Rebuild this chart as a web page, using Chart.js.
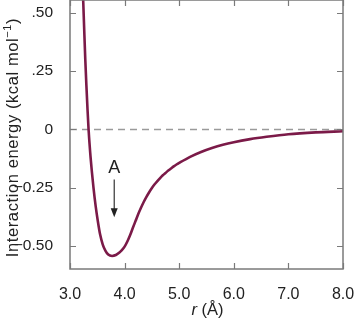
<!DOCTYPE html>
<html>
<head>
<meta charset="utf-8">
<script src="https://cdn.jsdelivr.net/npm/chart.js@4.4.0/dist/chart.umd.min.js"></script>
<style>
  html, body { margin: 0; padding: 0; background: #fff; }
  #wrap { width: 354px; height: 319px; }
</style>
</head>
<body>
<div id="wrap"><canvas id="energyChart"></canvas></div>
<script>
// separation r (Å) and interaction energy (kcal/mol)
const distances = [3.235, 3.26, 3.28, 3.30, 3.32, 3.34, 3.37, 3.40, 3.43, 3.47, 3.51, 3.55, 3.60, 3.65, 3.70, 3.77,
                   3.84, 3.90, 3.95, 4.00, 4.05, 4.10, 4.15, 4.20, 4.25, 4.30, 4.35, 4.40, 4.45, 4.50, 4.55, 4.60,
                   4.65, 4.70, 4.75, 4.80, 4.85, 4.90, 4.95, 5.00, 5.20, 5.40, 5.60, 5.80, 6.00, 6.30, 6.60,
                   7.00, 7.50, 8.00];
const energies = [0.60, 0.43, 0.30, 0.19, 0.09, 0.0, -0.10, -0.18, -0.25, -0.33, -0.395, -0.45, -0.495, -0.522, -0.538, -0.544,
                  -0.540, -0.530, -0.519, -0.504, -0.482, -0.455, -0.424, -0.394, -0.364, -0.337, -0.312, -0.290, -0.270, -0.252, -0.236, -0.222,
                  -0.209, -0.197, -0.187, -0.177, -0.168, -0.159, -0.151, -0.144, -0.118, -0.097, -0.080, -0.066, -0.055, -0.042, -0.032,
                  -0.021, -0.013, -0.008];

const zeroLineX = [3, 8];
const zeroLineY = [0, 0];

const xTicks = [3, 4, 5, 6, 7, 8];
const yTicks = [-0.5, -0.25, 0, 0.25, 0.5];
const yTickLabels = ['\u22120.50', '\u22120.25', '0', '.25', '.50'];

const yTitle = 'Interaction energy (kcal mol';
const yTitleSup = '\u22121';
const xTitleVar = 'r';
const xTitleUnit = ' (\u00c5)';
const markerLabel = 'A';
const markerAt = { r: 3.81, textE: -0.165, fromE: -0.215, toE: -0.378 };

const FONT = '"Liberation Sans", Arial, Helvetica, sans-serif';
const AXIS_COLOR = '#7a7a7a';

const frameAndLabels = {
  id: 'frameAndLabels',
  afterDraw(chart) {
    const { ctx, chartArea: a, scales } = chart;
    const xs = scales.x, ys = scales.y;
    ctx.save();

    // box round the plot
    ctx.strokeStyle = AXIS_COLOR;
    ctx.lineWidth = 1.5;
    ctx.strokeRect(a.left, a.top, a.right - a.left, a.bottom - a.top);

    // inward ticks on all four sides
    ctx.lineWidth = 1.2;
    ctx.beginPath();
    xTicks.forEach(v => {
      const px = Math.round(xs.getPixelForValue(v)) + 0.5;
      ctx.moveTo(px, a.bottom); ctx.lineTo(px, a.bottom - 6);
      ctx.moveTo(px, a.top); ctx.lineTo(px, a.top + 6);
    });
    yTicks.forEach(v => {
      const py = Math.round(ys.getPixelForValue(v)) + 0.5;
      ctx.moveTo(a.left, py); ctx.lineTo(a.left + 6, py);
      ctx.moveTo(a.right, py); ctx.lineTo(a.right - 6, py);
    });
    ctx.stroke();

    // marker A with arrow
    const mx = xs.getPixelForValue(markerAt.r);
    ctx.fillStyle = '#222';
    ctx.font = '18px ' + FONT;
    ctx.textAlign = 'center';
    ctx.textBaseline = 'middle';
    ctx.fillText(markerLabel, mx, ys.getPixelForValue(markerAt.textE));
    const y0 = ys.getPixelForValue(markerAt.fromE);
    const y1 = ys.getPixelForValue(markerAt.toE);
    ctx.strokeStyle = '#333';
    ctx.lineWidth = 1.2;
    ctx.beginPath();
    ctx.moveTo(mx, y0); ctx.lineTo(mx, y1 - 6);
    ctx.stroke();
    ctx.beginPath();
    ctx.moveTo(mx, y1); ctx.lineTo(mx - 3.5, y1 - 9); ctx.lineTo(mx + 3.5, y1 - 9);
    ctx.closePath();
    ctx.fill();

    // y title, rotated, with superscript
    ctx.fillStyle = '#222';
    ctx.translate(17.5, (a.top + a.bottom) / 2 + 3);
    ctx.rotate(-Math.PI / 2);
    ctx.textBaseline = 'alphabetic';
    ctx.textAlign = 'left';
    ctx.letterSpacing = '0.6px';
    const big = '16.5px ' + FONT, small = '11px ' + FONT;
    ctx.font = big;
    const w1 = ctx.measureText(yTitle).width;
    const w3 = ctx.measureText(')').width;
    ctx.font = small;
    const w2 = ctx.measureText(yTitleSup).width;
    let x0 = -(w1 + w2 + w3) / 2;
    ctx.font = big;
    ctx.fillText(yTitle, x0, 0);
    ctx.font = small;
    ctx.fillText(yTitleSup, x0 + w1, -7);
    ctx.font = big;
    ctx.fillText(')', x0 + w1 + w2, 0);
    ctx.setTransform(1, 0, 0, 1, 0, 0);
    ctx.letterSpacing = '0px';

    // x title with italic r
    ctx.font = 'italic 16.5px ' + FONT;
    const wr = ctx.measureText(xTitleVar).width;
    ctx.font = '16.5px ' + FONT;
    const wu = ctx.measureText(xTitleUnit).width;
    const cx = (a.left + a.right) / 2 + 1;
    let sx = cx - (wr + wu) / 2;
    ctx.font = 'italic 16.5px ' + FONT;
    ctx.fillText(xTitleVar, sx, 315);
    ctx.font = '16.5px ' + FONT;
    ctx.fillText(xTitleUnit, sx + wr, 315);

    ctx.restore();
  }
};

new Chart(document.getElementById('energyChart'), {
  type: 'line',
  data: {
    datasets: [
      {
        data: zeroLineX.map((x, i) => ({ x: x, y: zeroLineY[i] })),
        borderColor: '#9a9a9a',
        borderWidth: 1.5,
        borderDash: [7, 5],
        pointRadius: 0,
        order: 2
      },
      {
        data: distances.map((r, i) => ({ x: r, y: energies[i] })),
        borderColor: '#7b1a48',
        borderWidth: 2.6,
        pointRadius: 0,
        cubicInterpolationMode: 'monotone',
        order: 1
      }
    ]
  },
  options: {
    responsive: true,
    maintainAspectRatio: false,
    animation: false,
    layout: { padding: 0 },
    plugins: { legend: { display: false }, tooltip: { enabled: false } },
    scales: {
      x: {
        type: 'linear',
        min: 3,
        max: 8,
        grid: { display: false },
        border: { display: false },
        afterBuildTicks: s => { s.ticks = xTicks.map(v => ({ value: v })); },
        afterFit: s => { s.height = 50; s.paddingLeft = 0; s.paddingRight = 11; },
        ticks: {
          color: '#222',
          font: { family: FONT, size: 16 },
          padding: 8,
          maxRotation: 0,
          callback: v => v.toFixed(1)
        }
      },
      y: {
        min: -0.6,
        max: 0.556,
        grid: { display: false },
        border: { display: false },
        afterBuildTicks: s => { s.ticks = yTicks.map(v => ({ value: v })); },
        afterFit: s => { s.width = 70; s.paddingTop = 0; s.paddingBottom = 0; },
        ticks: {
          color: '#222',
          font: { family: FONT, size: 15.5 },
          padding: 9,
          callback: v => yTickLabels[yTicks.indexOf(v)]
        }
      }
    }
  },
  plugins: [frameAndLabels]
});
</script>
</body>
</html>
